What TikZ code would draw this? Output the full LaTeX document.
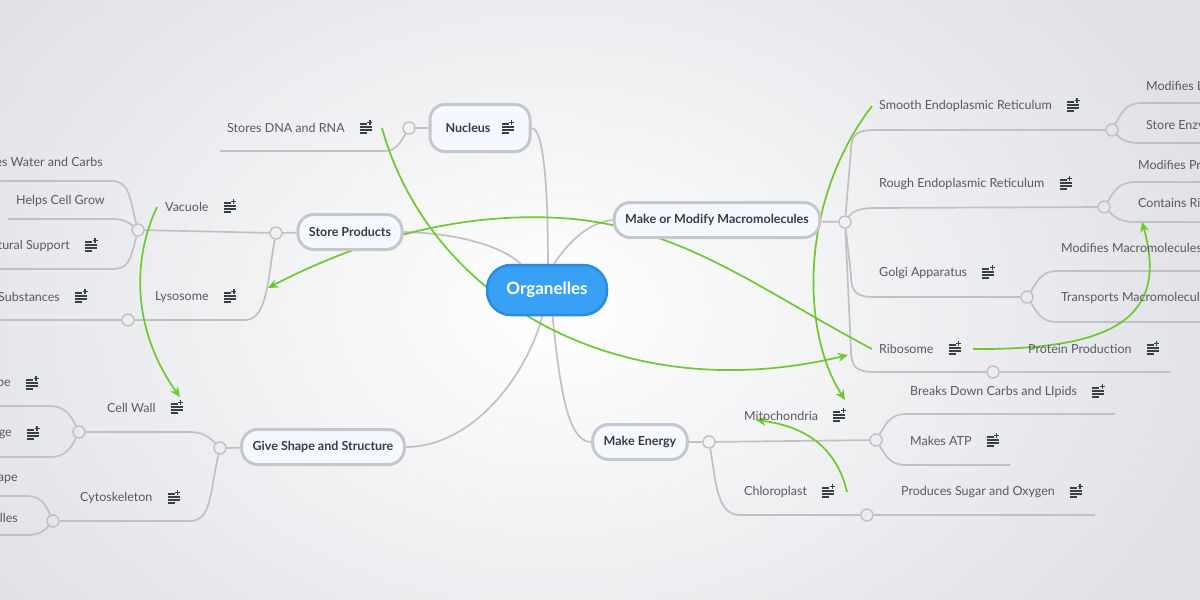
\documentclass[tikz,border=0pt]{standalone}
\usepackage{fontspec}
\setmainfont{Lato}
\usetikzlibrary{arrows.meta}

\definecolor{bgc}{RGB}{223,225,229}
\definecolor{twigc}{RGB}{192,193,196}
\definecolor{topline}{RGB}{198,199,202}
\definecolor{topfill}{RGB}{245,249,255}
\definecolor{leafc}{RGB}{88,90,96}
\definecolor{boldc}{RGB}{58,60,66}
\definecolor{rootfill}{RGB}{56,160,245}
\definecolor{rootline}{RGB}{44,138,224}
\definecolor{relgreen}{RGB}{112,200,48}
\definecolor{iconc}{RGB}{60,62,70}

\pgfdeclarelayer{back}
\pgfdeclarelayer{links}
\pgfsetlayers{back,links,main}

\tikzset{
  centrebox/.style={draw=rootline, line width=2.5pt, fill=rootfill, rounded corners=24pt,
    minimum height=50pt, minimum width=120pt, text=white, font=\bfseries\fontsize{17}{20}\selectfont},
  topicbox/.style={draw=topline, line width=3pt, fill=topfill, rounded corners=16pt,
    minimum height=35pt, inner xsep=11pt, text=boldc, font=\bfseries\fontsize{12.5}{15}\selectfont},
  leaftext/.style={inner xsep=0pt, inner ysep=2pt, text=leafc, font=\fontsize{12.5}{15}\selectfont},
  knob/.style={circle, draw=twigc, line width=1.4pt, minimum size=12pt, inner sep=0pt},
  twig/.style={draw=twigc, line width=1.7pt},
  relation/.style={draw=relgreen, line width=1.7pt, -{Stealth[length=10pt,width=9pt]}},
  iconline/.style={draw=iconc, line width=1.3pt},
  noteicon/.pic={
    \draw[iconline] (-6,-4) -- (1,-4) (-6,-1) -- (6,-1) (-6,2) -- (6,2) (-6,5) -- (1,5);
    \draw[iconline] (4,-8) -- (4,-3) (1.5,-5.5) -- (6.5,-5.5);
  }
}

\begin{document}
\begin{tikzpicture}[x=1pt, y=-1pt]
  \useasboundingbox (0,0) rectangle (1200,600);

  % backdrop
  \begin{pgfonlayer}{back}
    \fill[bgc] (0,0) rectangle (1200,600);
    \shade[inner color=white, outer color=bgc] (555,310) ellipse [x radius=700, y radius=500];
  \end{pgfonlayer}

  % centre and main topics
  \node[centrebox] (org) at (547,290) {Organelles};
  \node[topicbox, minimum width=100pt, minimum height=47pt, rounded corners=15pt] (nuc) at (480,128) {Nucleus\hspace*{24pt}};
  \node[topicbox] (sp) at (350,232) {Store Products};
  \node[topicbox] (mm) at (717,220) {Make or Modify Macromolecules};
  \node[topicbox] (me) at (640,442) {Make Energy};
  \node[topicbox] (gs) at (323,447) {Give Shape and Structure};
  \pic at ([xshift=-24pt]nuc.east) {noteicon};

  % leaves, text starting at x
  \foreach \nm/\x/\y/\txt in {sdna/227/128/Stores DNA and RNA, vac/165/207/Vacuole,
      lys/155/297/Lysosome, helps/16/201/Helps Cell Grow, cwall/107/408/Cell Wall,
      cyto/80/498/Cytoskeleton, smooth/879/106/Smooth Endoplasmic Reticulum,
      rough/879/184/Rough Endoplasmic Reticulum, golgi/879/273/Golgi Apparatus,
      ribo/879/349/Ribosome, prot/1028/349/Protein Production, modl/1146/86/Modifies L,
      enzy/1146/126/Store Enzy, modp/1138/165/Modifies Pr, cont/1138/203/Contains Ri,
      modm/1061/248/Modifies Macromolecules, trans/1061/298/Transports Macromolecule,
      mito/744/416/Mitochondria, chloro/744/492/Chloroplast,
      sugar/901/492/Produces Sugar and Oxygen, breaks/910/392/Breaks Down Carbs and LIpids,
      atp/910/441/Makes ATP}
    \node[leaftext, anchor=west] (\nm) at (\x,\y) {\txt};

  % leaves cut by the left edge, text ending at x
  \foreach \nm/\x/\y/\txt in {water/103/162/es Water and Carbs, struct/70/246/tural Support,
      subst/60/297/Substances, pe/11/384/pe, ge/12/434/ge, ape/18/479/ape, lles/18/518/lles}
    \node[leaftext, anchor=east] (\nm) at (\x,\y) {\txt};

  % note icons
  \foreach \nm in {sdna,vac,lys,cwall,cyto,smooth,rough,golgi,ribo,prot,mito,chloro,
      sugar,breaks,atp,struct,subst,pe,ge}
    \pic at ([xshift=21pt]\nm.east) {noteicon};

  % knobs
  \foreach \nm/\x/\y in {kn/409/128, ksp/276/233, kvac/138/230, klys/128/320, kgs/220/448,
      kcw/79/432, kcy/53/521, kmm/845/222, ksm/1112/130, kre/1104/207, kgo/1027/297,
      kri/993/372, kme/709/442, kmi/876/440, kch/867/515}
    \node[knob] (\nm) at (\x,\y) {};

  % loose ends of the underlines
  \foreach \nm/\x/\y in {sdnaE/220/151, waterE/0/181, helpsE/8/219, structE/0/269,
      substE/0/320, peE/0/406, geE/0/457, apeE/0/496, llesE/0/535, modlE/1200/103,
      enzyE/1200/143, modpE/1200/182, contE/1200/222, modmE/1200/271, transE/1200/322,
      protE/1170/372, breaksE/1115/414, atpE/1010/465, sugarE/1095/515}
    \coordinate (\nm) at (\x,\y);

  \begin{pgfonlayer}{links}
    % centre to topics
    \draw[twig] (nuc.east) .. controls (545,128) and (548,200) .. (org.88);
    \draw[twig] (sp.east) .. controls (455,233) and (500,245) .. (org.135);
    \draw[twig] (org.75) .. controls (570,240) and (590,222) .. (mm.west);
    \draw[twig] (org.-78) .. controls (560,390) and (568,442) .. (me.west);
    \draw[twig] (org.-100) .. controls (525,380) and (470,447) .. (gs.east);

    % nucleus
    \draw[twig] (nuc) -- (kn);
    \draw[twig] (kn) .. controls (400,143) and (396,151) .. (384,151) -- (sdnaE);

    % store products
    \draw[twig] (sp) -- (ksp);
    \draw[twig] (ksp) -- (kvac);
    \draw[twig] (ksp) .. controls (268,275) and (268,320) .. (245,320) -- (klys);
    \draw[twig] (klys) -- (substE);
    \draw[twig] (kvac) .. controls (130,200) and (130,181) .. (112,181) -- (waterE);
    \draw[twig] (kvac) .. controls (128,222) and (124,219) .. (112,219) -- (helpsE);
    \draw[twig] (kvac) .. controls (130,262) and (128,269) .. (112,269) -- (structE);

    % give shape and structure
    \draw[twig] (gs) -- (kgs);
    \draw[twig] (kgs) .. controls (208,436) and (202,432) .. (190,432) -- (kcw);
    \draw[twig] (kgs) .. controls (210,490) and (212,521) .. (190,521) -- (kcy);
    \draw[twig] (kcw) .. controls (70,414) and (64,406) .. (50,406) -- (peE);
    \draw[twig] (kcw) .. controls (70,450) and (64,457) .. (50,457) -- (geE);
    \draw[twig] (kcy) .. controls (45,503) and (40,496) .. (27,496) -- (apeE);
    \draw[twig] (kcy) .. controls (45,530) and (40,535) .. (27,535) -- (llesE);

    % make or modify macromolecules
    \draw[twig] (mm) -- (kmm);
    \draw[twig] (kmm) -- (851,150) .. controls (851,135) and (856,130) .. (875,130) -- (ksm);
    \draw[twig] (kmm) .. controls (852,212) and (858,208) .. (875,208) -- (kre);
    \draw[twig] (kmm) -- (851,275) .. controls (851,292) and (856,297) .. (875,297) -- (kgo);
    \draw[twig] (kmm) -- (851,350) .. controls (851,367) and (856,372) .. (875,372) -- (kri);
    \draw[twig] (kri) -- (protE);
    \draw[twig] (ksm) .. controls (1122,112) and (1126,103) .. (1142,103) -- (modlE);
    \draw[twig] (ksm) .. controls (1122,140) and (1126,143) .. (1142,143) -- (enzyE);
    \draw[twig] (kre) .. controls (1114,192) and (1118,182) .. (1135,182) -- (modpE);
    \draw[twig] (kre) .. controls (1114,216) and (1118,222) .. (1135,222) -- (contE);
    \draw[twig] (kgo) .. controls (1037,282) and (1041,271) .. (1057,271) -- (modmE);
    \draw[twig] (kgo) .. controls (1037,312) and (1041,322) .. (1057,322) -- (transE);

    % make energy
    \draw[twig] (me) -- (kme);
    \draw[twig] (kme) -- (kmi);
    \draw[twig] (kme) .. controls (716,480) and (716,515) .. (740,515) -- (kch);
    \draw[twig] (kch) -- (sugarE);
    \draw[twig] (kmi) .. controls (886,424) and (890,414) .. (906,414) -- (breaksE);
    \draw[twig] (kmi) .. controls (886,456) and (890,465) .. (906,465) -- (atpE);

    % relations
    \draw[relation] ([xshift=155pt]sdna.west) .. controls (430,300) and (620,410) .. ([xshift=-31pt,yshift=-6pt]ribo.west);
    \draw[relation] ([xshift=-7pt]ribo.west) .. controls (760,290) and (680,225) .. (560,218)
      .. controls (460,212) and (360,240) .. ([xshift=113pt,yshift=9pt]lys.west);
    \draw[relation] ([xshift=-8pt]vac.west) .. controls (132,260) and (132,330) .. ([xshift=73pt,yshift=11pt]cwall.west);
    \draw[relation] ([xshift=-7pt]smooth.west) .. controls (800,200) and (800,330) .. ([xshift=101pt,yshift=16pt]mito.west);
    \draw[relation] ([xshift=103pt]chloro.west) .. controls (835,440) and (795,425) .. ([xshift=12pt,yshift=-4pt]mito.west);
    \draw[relation] ([xshift=94pt]ribo.west) .. controls (1110,350) and (1170,320) .. ([xshift=4pt,yshift=-19pt]cont.west);
  \end{pgfonlayer}
\end{tikzpicture}
\end{document}
